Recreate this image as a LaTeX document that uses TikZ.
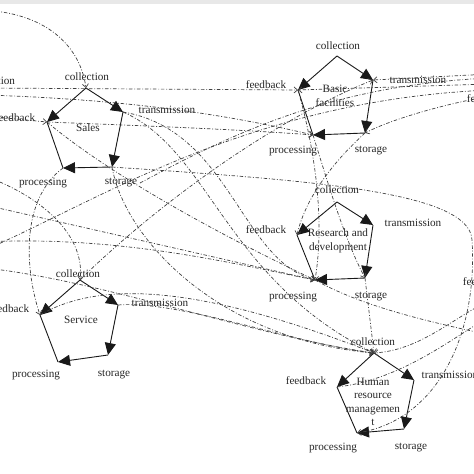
\documentclass[tikz,border=0pt]{standalone}
\usepackage{fontspec}
\setmainfont{Liberation Serif}
\usetikzlibrary{arrows.meta}
\begin{document}
\begin{tikzpicture}[x=1pt,y=-1pt,
  lbl/.style={inner sep=0pt,text=black!85,font=\fontsize{11.2}{13}\selectfont},
  ttl/.style={inner sep=0pt,text=black!85,align=center,font=\fontsize{11.2}{13.5}\selectfont},
  pedge/.style={draw=black!90,line width=0.9pt,-{Triangle[length=12pt,width=11pt]}},
  pplain/.style={draw=black!90,line width=0.9pt},
  ddn/.style={draw=black!75,line width=0.7pt,dash pattern=on 3.5pt off 1.8pt on 0.9pt off 1.8pt},
  dd/.style={ddn,-{Straight Barb[length=3.5pt,width=6pt]}}]
\useasboundingbox (0,0) rectangle (474,474);
\fill[black!9] (0,0) rectangle (474,4);
% ---------- pentagon vertices ----------
\coordinate (Sc) at (86,88);  \coordinate (St) at (123,112); \coordinate (Ss) at (112,167);
\coordinate (Sp) at (63,168); \coordinate (Sf) at (47,122);
\coordinate (Bc) at (337,56); \coordinate (Bt) at (373,80); \coordinate (Bs) at (365,133);
\coordinate (Bp) at (313,135);\coordinate (Bf) at (298,90);
\coordinate (Rc) at (337,202);\coordinate (Rt) at (373,225);\coordinate (Rs) at (365,278);
\coordinate (Rp) at (315,280);\coordinate (Rf) at (297,235);
\coordinate (Vc) at (80,280); \coordinate (Vt) at (118,305); \coordinate (Vs) at (108,355);
\coordinate (Vp) at (58,362); \coordinate (Vf) at (40,315);
\coordinate (Hc) at (374,353);\coordinate (Ht) at (414,380); \coordinate (Hs) at (404,429);
\coordinate (Hp) at (357,433);\coordinate (Hf) at (337,387);
% ---------- off-picture ends ----------
\coordinate (oA) at (-20,10);  \coordinate (oB) at (-15,88);  \coordinate (oC) at (-15,95);
\coordinate (oD) at (-15,116); \coordinate (oE) at (-15,176); \coordinate (oF) at (-15,205);
\coordinate (oG) at (-15,242); \coordinate (oH) at (-15,250); \coordinate (oI) at (-15,268);
\coordinate (rA) at (490,74);  \coordinate (rB) at (490,78);  \coordinate (rC) at (490,84);
\coordinate (rD) at (490,90);  \coordinate (rE) at (490,96);  \coordinate (rF) at (490,300);
\coordinate (rG) at (490,316); \coordinate (rH) at (490,335);
\coordinate (m6) at (472,240); \coordinate (sL) at (140,183);
% ---------- labels ----------
\node[lbl] (xcoll) at (-7,81) {collection};
\node[lbl] (Slc) at (87,77) {collection};
\node[lbl] (Slt) at (167,110) {transmission};
\node[lbl] (Slf) at (15,118) {feedback};
\node[lbl] (Slp) at (43,183) {processing};
\node[lbl] (Sls) at (121,183) {storage};
\node[ttl] (Sn) at (88,128) {Sales};
\node[lbl] (Blc) at (338,46) {collection};
\node[lbl] (Blt) at (418,80) {transmission};
\node[lbl] (Blf) at (266,85) {feedback};
\node[lbl] (Blp) at (293,151) {processing};
\node[lbl] (Bls) at (371,151) {storage};
\node[ttl] (Bn) at (335,96) {Basic\\facilities};
\node[lbl] (xfb1) at (487,99) {feedback};
\node[lbl] (Rlc) at (337,190) {collection};
\node[lbl] (Rlt) at (413,223) {transmission};
\node[lbl] (Rlf) at (266,230) {feedback};
\node[lbl] (Rlp) at (293,297) {processing};
\node[lbl] (Rls) at (371,297) {storage};
\node[ttl] (Rn) at (338,241) {Research and\\development};
\node[lbl] (xfb2) at (483,282) {feedback};
\node[lbl] (Vlc) at (78,274) {collection};
\node[lbl] (Vlt) at (160,303) {transmission};
\node[lbl] (Vlf) at (9,309) {feedback};
\node[lbl] (Vlp) at (36,375) {processing};
\node[lbl] (Vls) at (114,375) {storage};
\node[ttl] (Vn) at (81,320) {Service};
\node[lbl] (Hlc) at (373,342) {collection};
\node[lbl] (Hlt) at (450,375) {transmission};
\node[lbl] (Hlf) at (306,381) {feedback};
\node[lbl] (Hlp) at (333,448) {processing};
\node[lbl] (Hls) at (411,448) {storage};
\node[ttl] (Hn) at (373,402) {Human\\resource\\managemen\\t};
% ---------- pentagons ----------
\foreach \P in {S,B,R,V,H}{
  \draw[pedge] (\P c) -- (\P t);
  \draw[pedge] (\P t) -- (\P s);
  \draw[pedge] (\P s) -- (\P p);
  \draw[pedge] (\P c) -- (\P f);
  \draw[pplain] (\P p) -- (\P f);
}
% ---------- dash-dot links ----------
\draw[dd] (oA) .. controls (45,12) and (80,45) .. (Sc);
\draw[dd] (oB) -- (Bf);
\draw[dd] (oC) .. controls (150,100) and (250,120) .. (Bp);
\draw[dd] (Sf) .. controls (150,126) and (250,130) .. (Bp);
\draw[dd] (oD) -- (Sf);
\draw[ddn] (sL) .. controls (230,135) and (330,85) .. (rB);
\draw[dd] (Ss) .. controls (300,180) and (470,190) .. (m6) .. controls (478,330) and (440,420) .. (Hp);
\draw[dd] (rA) -- (Bt);
\draw[dd] (rC) -- (Bf);
\draw[dd] (rE) .. controls (440,105) and (390,120) .. (Bs);
\draw[dd] (Bs) .. controls (330,165) and (305,200) .. (Rf);
\draw[ddn] (oH) .. controls (100,200) and (250,100) .. (rD);
\draw[dd] (Vc) .. controls (130,230) and (250,130) .. (Bt);
\draw[dd] (Bp) .. controls (330,190) and (345,240) .. (Rs);
\draw[dd] (Bf) .. controls (315,150) and (325,220) .. (Rp);
\draw[dd] (Rs) -- (Hc);
\draw[dd] (Vt) .. controls (180,300) and (300,345) .. (Hc);
\draw[dd] (Vf) .. controls (100,280) and (200,285) .. (Hc);
\draw[dd] (oI) .. controls (100,280) and (250,335) .. (Hc);
\draw[dd] (Ss) .. controls (125,240) and (220,340) .. (Hc);
\draw[dd] (oG) .. controls (120,235) and (240,265) .. (Rp);
\draw[dd] (oF) -- (Rp);
\draw[dd] (Sf) .. controls (110,175) and (220,235) .. (Rp);
\draw[dd] (St) .. controls (230,130) and (240,260) .. (Rp);
\draw[dd] (St) .. controls (210,150) and (225,280) .. (Hc);
\draw[dd] (Sp) .. controls (20,200) and (25,270) .. (Vf);
\draw[dd] (oE) .. controls (50,200) and (85,240) .. (Vc);
\draw[ddn] (Hf) .. controls (400,380) and (450,340) .. (rG);
\draw[dd] (rF) .. controls (450,320) and (420,350) .. (Hc);
\draw[ddn] (Rp) .. controls (360,305) and (420,320) .. (rH);
\end{tikzpicture}
\end{document}
